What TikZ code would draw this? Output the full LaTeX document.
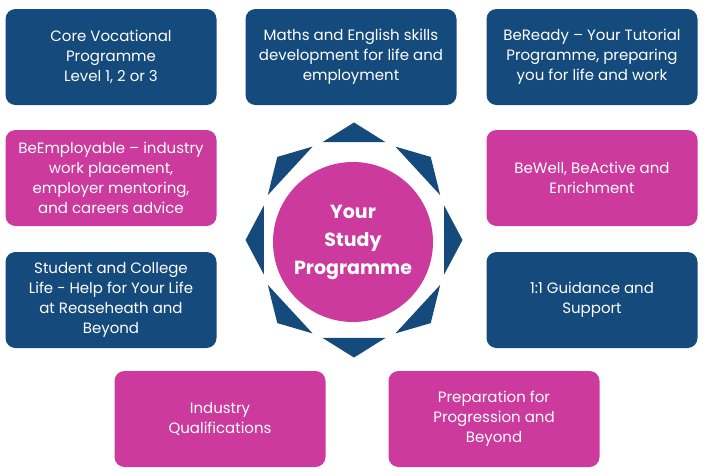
\documentclass[tikz,border=0pt]{standalone}
\usepackage{fontspec}
\setmainfont{Poppins}
\usetikzlibrary{shapes,positioning}
\definecolor{navy}{HTML}{154A7D}
\definecolor{magenta}{HTML}{CB3A9C}
\tikzset{
	box/.style      = {rectangle, rounded corners = 10pt, text = white,
		align = center, minimum width = 211pt, minimum height = 96pt,
		font = \fontsize{15}{20}\selectfont},
	bluebox/.style  = {box, fill = navy},
	pinkbox/.style  = {box, fill = magenta},
	hub/.style      = {circle, fill = magenta, text = white, align = center,
		minimum size = 160pt, font = \fontsize{19}{28}\selectfont\bfseries},
	spike/.style    = {fill = navy} % star points
}

\begin{document}
\begin{tikzpicture}[x=1pt, y=-1pt, inner sep=0pt]
	\useasboundingbox (0,0) rectangle (705,475);
	\draw
	node at (111,57)  [bluebox] (core)     {Core Vocational\\Programme\\Level 1, 2 or 3}
	node at (351,57)  [bluebox] (maths)    {Maths and English skills\\development for life and\\employment}
	node at (592,57)  [bluebox] (ready)    {BeReady -- Your Tutorial\\Programme, preparing\\you for life and work}
	node at (111,178) [pinkbox] (employ)   {BeEmployable -- industry\\work placement,\\employer mentoring,\\and careers advice}
	node at (592,178) [pinkbox] (well)     {BeWell, BeActive and\\Enrichment}
	node at (111,300) [bluebox] (life)     {Student and College\\Life - Help for Your Life\\at Reaseheath and\\Beyond}
	node at (592,300) [bluebox] (guide)    {1:1 Guidance and\\Support}
	node at (220,419) [pinkbox] (quals)    {Industry\\Qualifications}
	node at (494,419) [pinkbox] (progress) {Preparation for\\Progression and\\Beyond};

	% star round the hub
	\begin{scope}[shift={(354,240)}, xscale=0.96, yscale=1.04]
		\foreach \a in {0,45,...,315}
			\fill[spike, rotate=\a] (113,0) -- (94,33) -- (94,-33) -- cycle;
	\end{scope}
	\node at (353,242) [hub] (study) {Your\\Study\\Programme};
\end{tikzpicture}
\end{document}
